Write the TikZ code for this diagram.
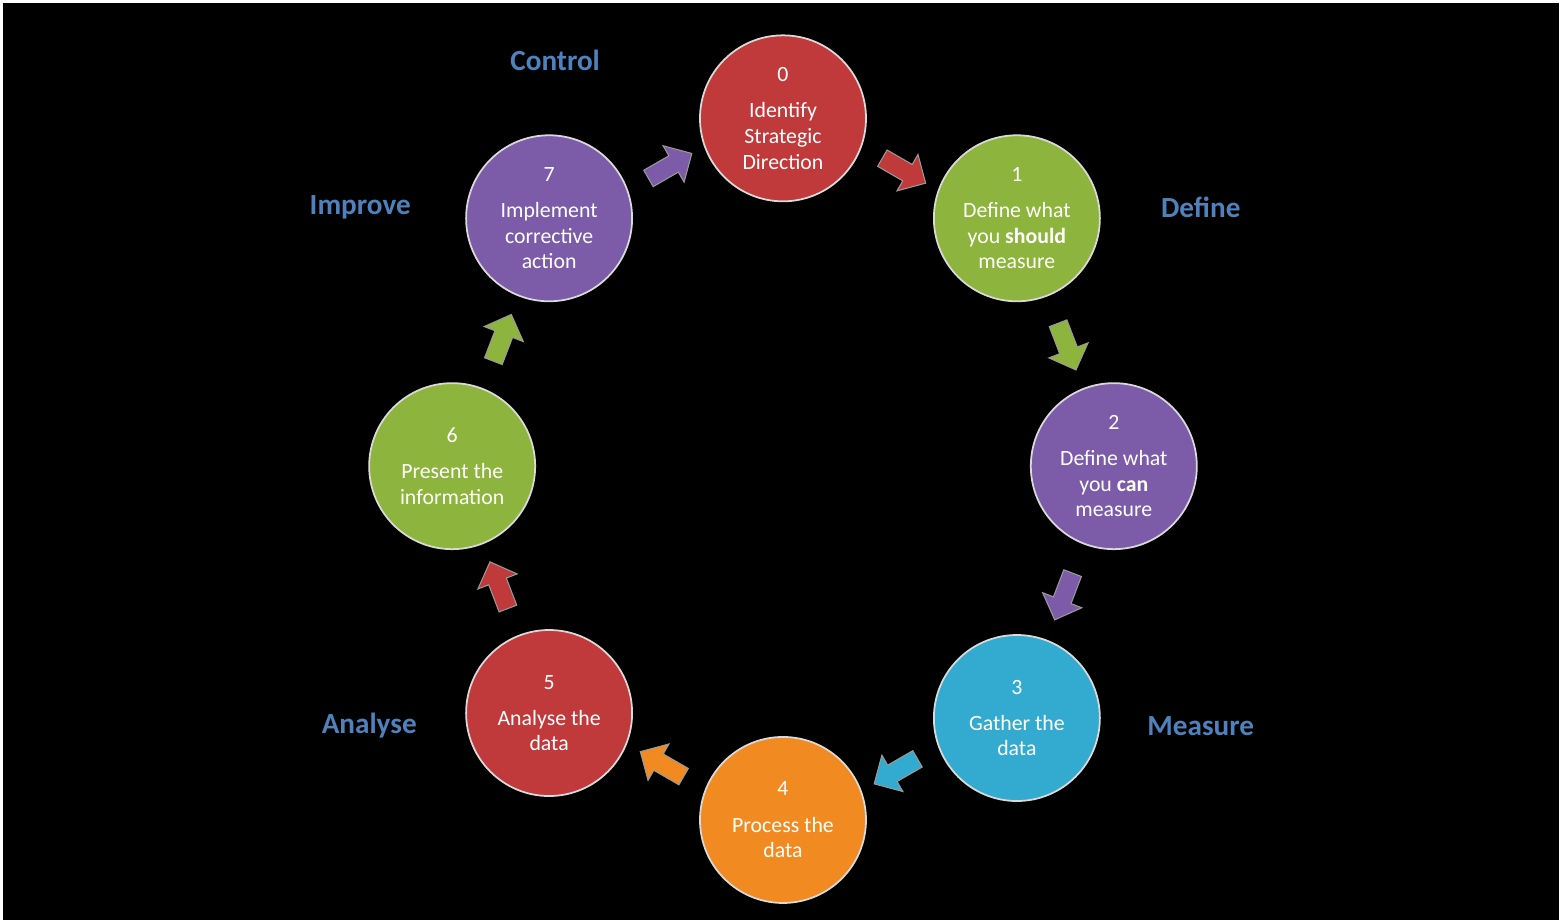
\documentclass[tikz,border=0pt]{standalone}
\usepackage{fontspec}
\setmainfont{Carlito}
\usetikzlibrary{shapes.arrows,calc}
\definecolor{cred}{HTML}{C0393B}
\definecolor{cgreen}{HTML}{8DB43C}
\definecolor{cpurple}{HTML}{7C5CA8}
\definecolor{ccyan}{HTML}{33AACF}
\definecolor{corange}{HTML}{F28A22}
\definecolor{clabel}{HTML}{4F81BD}
\begin{document}
\begin{tikzpicture}[x=0.01cm,y=-0.01cm,
    stage/.style={circle,minimum size=1.66cm,inner sep=0pt,draw=white!85!black,line width=0.5pt,
      text=white,align=center,font=\fontsize{6.2}{7.3}\selectfont},
    flow/.style={single arrow,minimum height=0.5cm,minimum width=0.42cm,
      single arrow head extend=0.08cm,inner sep=0.06cm,draw=white!60!black,line width=0.3pt},
    phase/.style={text=clabel,font=\bfseries\fontsize{8.3}{10}\selectfont}]
    \fill[black] (0,0) rectangle (1562,922);
    \draw[white,line width=0.8pt] (1,1) rectangle (1561,921);
    \node[stage,fill=cred] (s0) at (783,118) {0\\[3pt]Identify\\Strategic\\Direction};
    \node[stage,fill=cgreen] (s1) at (1017,218) {1\\[3pt]Define what\\you \textbf{should}\\measure};
    \node[stage,fill=cpurple] (s2) at (1114,466) {2\\[3pt]Define what\\you \textbf{can}\\measure};
    \node[stage,fill=ccyan] (s3) at (1017,718) {3\\[3pt]Gather the\\data};
    \node[stage,fill=corange] (s4) at (783,820) {4\\[3pt]Process the\\data};
    \node[stage,fill=cred] (s5) at (549,713) {5\\[3pt]Analyse the\\data};
    \node[stage,fill=cgreen] (s6) at (452,466) {6\\[3pt]Present the\\information};
    \node[stage,fill=cpurple] (s7) at (549,218) {7\\[3pt]Implement\\corrective\\action};
    % arrows between the stages
    \node[flow,fill=cred,rotate=-30] (a01) at ($(s0)!0.5!(s1)$) {};
    \node[flow,fill=cgreen,rotate=-69] (a12) at ($(s1)!0.5!(s2)$) {};
    \node[flow,fill=cpurple,rotate=-111] (a23) at ($(s2)!0.5!(s3)$) {};
    \node[flow,fill=ccyan,rotate=-150] (a34) at ($(s3)!0.5!(s4)$) {};
    \node[flow,fill=corange,rotate=150] (a45) at ($(s4)!0.5!(s5)$) {};
    \node[flow,fill=cred,rotate=111] (a56) at ($(s5)!0.5!(s6)$) {};
    \node[flow,fill=cgreen,rotate=69] (a67) at ($(s6)!0.5!(s7)$) {};
    \node[flow,fill=cpurple,rotate=30] (a70) at ($(s7)!0.5!(s0)$) {};
    % phase labels
    \node[phase] (control) at (555,60) {Control};
    \node[phase] (define) at (1201,207) {Define};
    \node[phase] (measure) at (1201,726) {Measure};
    \node[phase] (analyse) at (369,726) {Analyse};
    \node[phase] (improve) at (360,207) {Improve};
\end{tikzpicture}
\end{document}
